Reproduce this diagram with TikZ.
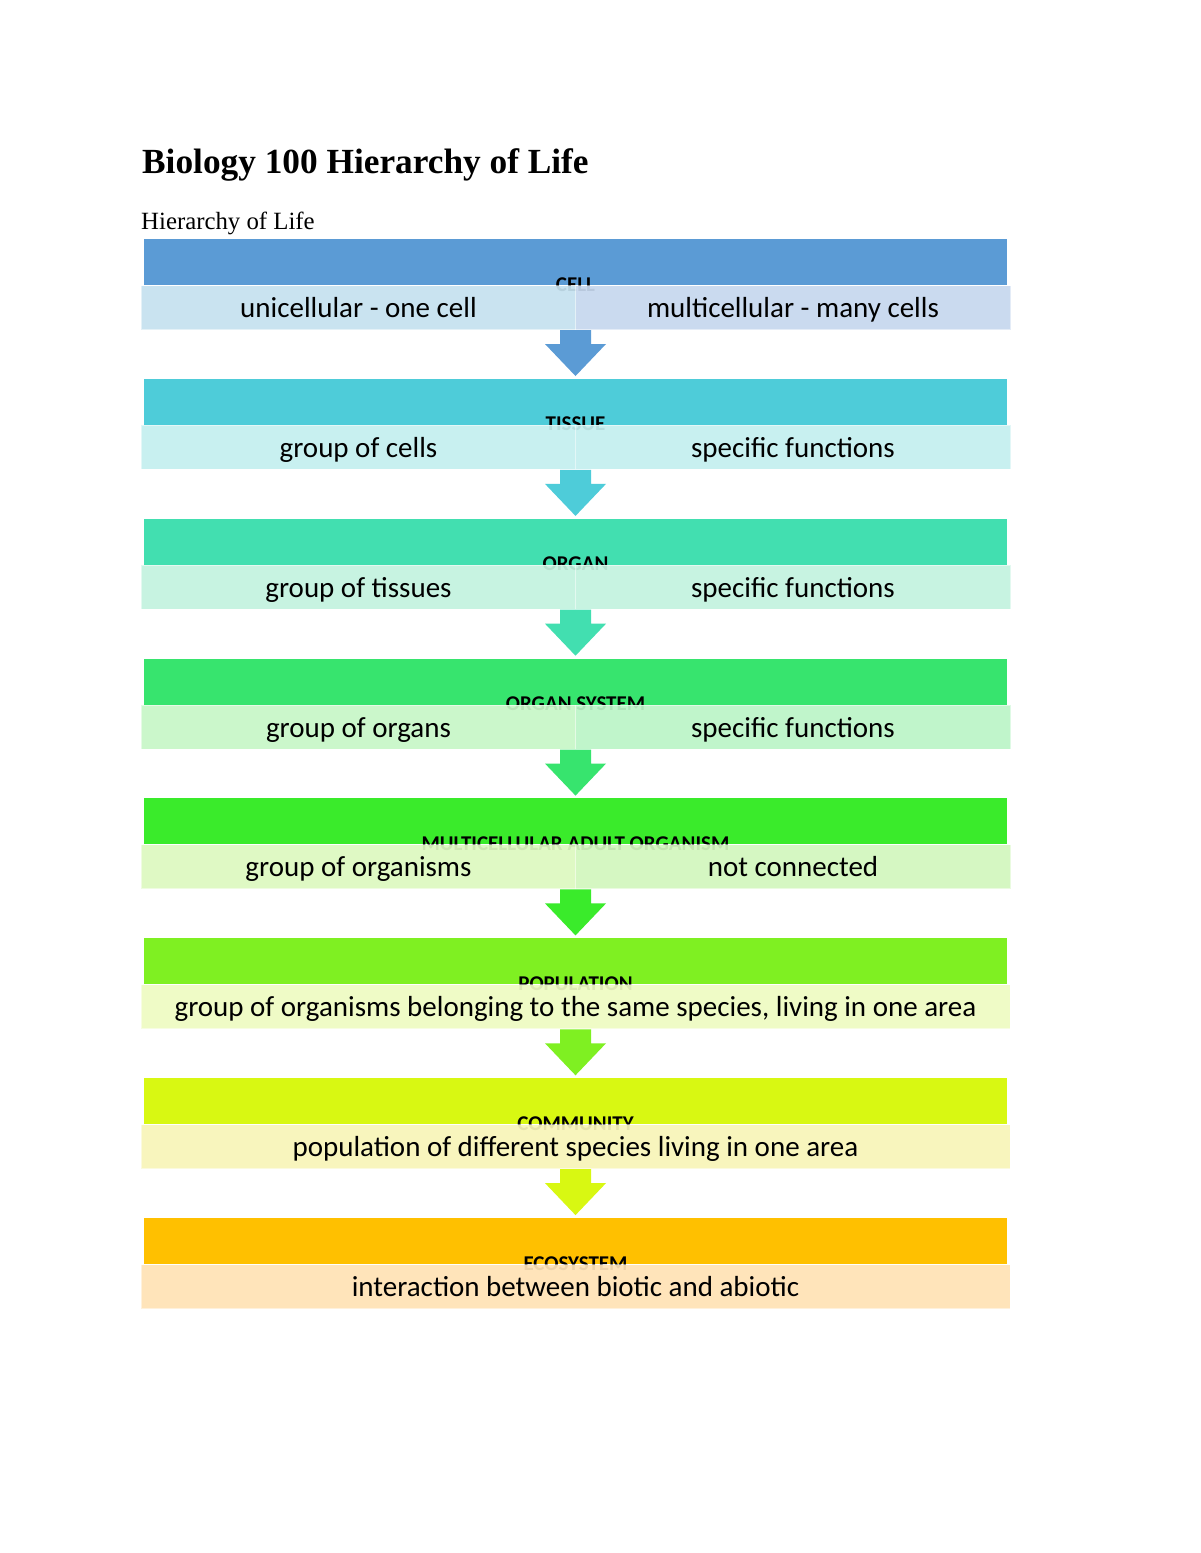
\documentclass[tikz,border=0pt]{standalone}
\usepackage{fontspec}
\setmainfont{Liberation Serif}
\newfontfamily\calfont{Carlito}
\definecolor{hA}{HTML}{5B9BD5}\definecolor{aL}{HTML}{C5E1EF}\definecolor{aR}{HTML}{C7D8EE}
\definecolor{hB}{HTML}{4ECCD9}\definecolor{bL}{HTML}{C4EFEF}\definecolor{bR}{HTML}{C4EFEF}
\definecolor{hC}{HTML}{42DFB0}\definecolor{cL}{HTML}{C3F3DF}\definecolor{cR}{HTML}{C3F3DF}
\definecolor{hD}{HTML}{37E46E}\definecolor{dL}{HTML}{C8F7C8}\definecolor{dR}{HTML}{BCF5C8}
\definecolor{hE}{HTML}{3AEB2B}\definecolor{eL}{HTML}{DDF9C0}\definecolor{eR}{HTML}{D2F7BE}
\definecolor{hF}{HTML}{7FF022}\definecolor{fS}{HTML}{EEFBC2}
\definecolor{hG}{HTML}{D8F812}\definecolor{gS}{HTML}{F8F5B8}
\definecolor{hH}{HTML}{FFC000}\definecolor{hS}{HTML}{FFE3B5}
\tikzset{
  hdrbox/.style={rectangle, inner sep=0pt, minimum width=863pt, minimum height=46pt, draw=none},
  lblnode/.style={inner sep=0pt, anchor=base, font=\calfont\bfseries\fontsize{21}{24}\selectfont},
  subbox/.style={rectangle, inner sep=0pt, minimum height=44pt, text height=23pt, text depth=3pt, draw=white, draw opacity=0.5, line width=1pt, fill opacity=0.93, text opacity=1, font=\calfont\fontsize{29}{34}\selectfont},
  halfbox/.style={subbox, minimum width=435pt},
  fullbox/.style={subbox, minimum width=869pt},
}
\newcommand\tworow[8]{%
  \node[hdrbox, fill=#3] (h#1) at (575.5,#2+23) {};
  \node[lblnode] (l#1) at (575.5,#2+52) {#4};
  \node[halfbox, fill=#5] (sl#1) at (358.5,#2+68.5) {#6};
  \node[halfbox, fill=#7] (sr#1) at (793,#2+68.5) {#8};
  \coordinate (t#1) at (575.5,#2+91);
}
\newcommand\onerow[6]{%
  \node[hdrbox, fill=#3] (h#1) at (575.5,#2+23) {};
  \node[lblnode] (l#1) at (575.5,#2+52) {#4};
  \node[fullbox, fill=#5] (s#1) at (575.5,#2+68.5) {#6};
  \coordinate (t#1) at (575.5,#2+91);
}
\newcommand\hdarrow[2]{%
  \fill[#2] (t#1) ++(-15.5,0) -- ++(31,0) -- ++(0,14) -- ++(15,0) -- ++(-30.5,32) -- ++(-30.5,-32) -- ++(15,0) -- cycle;
}
\begin{document}
\begin{tikzpicture}[x=1pt,y=-1pt]
\useasboundingbox[fill=white] (0,0) rectangle (1200,1553);
\node[anchor=base west, inner sep=0pt, font=\bfseries\fontsize{35.3}{40}\selectfont] (title) at (142,173) {Biology 100 Hierarchy of Life};
\node[anchor=base west, inner sep=0pt, font=\fontsize{24.8}{28}\selectfont] (subtitle) at (141,229) {Hierarchy of Life};
\tworow{1}{239}{hA}{CELL}{aL}{unicellular - one cell}{aR}{multicellular - many cells}
\hdarrow{1}{hA}
\tworow{2}{378.9}{hB}{TISSUE}{bL}{group of cells}{bR}{specific functions}
\hdarrow{2}{hB}
\tworow{3}{518.7}{hC}{ORGAN}{cL}{group of tissues}{cR}{specific functions}
\hdarrow{3}{hC}
\tworow{4}{658.6}{hD}{ORGAN SYSTEM}{dL}{group of organs}{dR}{specific functions}
\hdarrow{4}{hD}
\tworow{5}{798.4}{hE}{MULTICELLULAR ADULT ORGANISM}{eL}{group of organisms}{eR}{not connected}
\hdarrow{5}{hE}
\onerow{6}{938.3}{hF}{POPULATION}{fS}{group of organisms belonging to the same species, living in one area}
\hdarrow{6}{hF}
\onerow{7}{1078.1}{hG}{COMMUNITY}{gS}{population of different species living in one area}
\hdarrow{7}{hG}
\onerow{8}{1218}{hH}{ECOSYSTEM}{hS}{interaction between biotic and abiotic}
\end{tikzpicture}
\end{document}
